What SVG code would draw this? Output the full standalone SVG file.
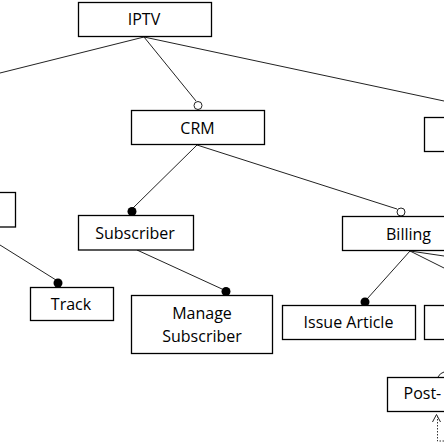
<svg xmlns="http://www.w3.org/2000/svg" width="444" height="444" viewBox="0 0 444 444">
<style>
.box{fill:#fff;stroke:#000;stroke-width:1.3}
.lbl{font-family:"Open Sans","Noto Sans",sans-serif;font-size:16px;fill:#000;text-anchor:middle}
.ln{fill:none;stroke:#222;stroke-width:1}
.open{fill:#fff;stroke:#222;stroke-width:1}
.fill{fill:#000;stroke:none}
.dot{fill:none;stroke:#333;stroke-width:1;stroke-dasharray:1.5 1.5}
</style>
<rect width="444" height="444" fill="#fff"/>
<g id="connectors">
<line class="ln" x1="144" y1="37" x2="0" y2="73"/>
<line class="ln" x1="144" y1="37" x2="444" y2="101"/>
<line class="ln" x1="144" y1="37" x2="196" y2="101"/>
<circle class="open" cx="198" cy="105.5" r="4"/>
<line class="ln" x1="197" y1="145" x2="133" y2="208"/>
<circle class="fill" cx="132" cy="211.5" r="4.5"/>
<line class="ln" x1="197" y1="145" x2="397" y2="209"/>
<circle class="open" cx="401" cy="212" r="4"/>
<line class="ln" x1="0" y1="245" x2="56" y2="280"/>
<circle class="fill" cx="58" cy="283" r="4.5"/>
<line class="ln" x1="137" y1="250" x2="222" y2="289"/>
<circle class="fill" cx="226" cy="291.5" r="4.5"/>
<line class="ln" x1="410" y1="251" x2="367" y2="299"/>
<circle class="fill" cx="365" cy="302" r="4.5"/>
<line class="ln" x1="410" y1="251" x2="444" y2="256"/>
<line class="ln" x1="410" y1="251" x2="444" y2="268"/>
<path class="ln" d="M438,377 Q440,373 444,372"/>
<polyline class="ln" points="432.5,422 436.5,414.5 440.5,422"/>
<polyline class="dot" points="437.5,416 437.5,441 444,441"/>
</g>
<g id="node-iptv"><rect class="box" x="78.5" y="2.5" width="133" height="34"/><text class="lbl" x="144" y="25">IPTV</text></g>
<g id="node-crm"><rect class="box" x="131.5" y="110.5" width="133" height="34"/><text class="lbl" x="197.5" y="133.5">CRM</text></g>
<g id="node-right-top"><rect class="box" x="424.5" y="117.5" width="30" height="34"/></g>
<g id="node-left"><rect class="box" x="-10" y="192.5" width="25.5" height="34.5"/></g>
<g id="node-subscriber"><rect class="box" x="78.5" y="215.5" width="115" height="34.5"/><text class="lbl" x="135" y="239">Subscriber</text></g>
<g id="node-billing"><rect class="box" x="342.5" y="216.5" width="120" height="34"/><text class="lbl" x="408.5" y="240">Billing</text></g>
<g id="node-track"><rect class="box" x="30.5" y="287.5" width="83" height="33"/><text class="lbl" x="71" y="310">Track</text></g>
<g id="node-manage"><rect class="box" x="131.5" y="295.5" width="141" height="58"/><text class="lbl" x="202" y="318.5">Manage</text><text class="lbl" x="202" y="342">Subscriber</text></g>
<g id="node-issue"><rect class="box" x="282.5" y="305.5" width="133" height="34"/><text class="lbl" x="348.5" y="327.5">Issue Article</text></g>
<g id="node-right-mid"><rect class="box" x="424.5" y="305.5" width="30" height="34"/></g>
<g id="node-post"><rect class="box" x="387.5" y="377.5" width="70" height="34"/><text class="lbl" x="403.5" y="399" style="text-anchor:start">Post-</text></g>
</svg>
